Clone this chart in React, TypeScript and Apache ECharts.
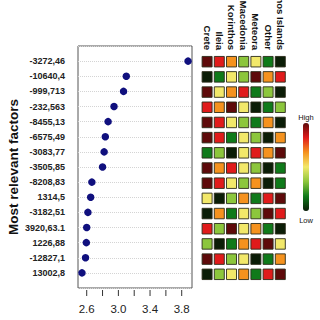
import { useEffect, useRef } from "react";
import * as echarts from "echarts";

// Dot plot: factor labels (top to bottom) and their importance scores
const factorLabels = [
  "-3272,46", "-10640,4", "-999,713", "-232,563", "-8455,13",
  "-6575,49", "-3083,77", "-3505,85", "-8208,83", "1314,5",
  "-3182,51", "3920,63.1", "1226,88", "-12827,1", "13002,8",
];
const importance = [
  3.88, 3.1, 3.065, 2.945, 2.87, 2.835, 2.82, 2.8, 2.665, 2.65,
  2.615, 2.6, 2.595, 2.585, 2.54,
];
const scoreTicks = [2.6, 2.8, 3.0, 3.2, 3.4, 3.6, 3.8];
const scoreLabels = [2.6, 3.0, 3.4, 3.8];

// Heat map: regions (columns) and relative level per factor row, 1 = low .. 7 = high
const regions = ["Crete", "Ileia", "Korinthos", "Macedonia", "Meteora", "Other", "Samos Islands"];
const levelRows = [
  [7, 6, 5, 3, 4, 2, 1],
  [1, 2, 4, 3, 7, 5, 6],
  [7, 4, 5, 6, 2, 3, 1],
  [6, 5, 7, 4, 1, 2, 3],
  [7, 6, 4, 3, 2, 5, 1],
  [7, 6, 2, 4, 3, 1, 5],
  [2, 3, 1, 4, 6, 5, 7],
  [7, 5, 6, 4, 3, 1, 2],
  [7, 6, 4, 3, 5, 1, 2],
  [4, 1, 3, 5, 2, 6, 7],
  [1, 5, 2, 4, 3, 7, 6],
  [6, 3, 7, 4, 5, 2, 1],
  [3, 1, 2, 5, 6, 7, 4],
  [7, 6, 3, 4, 1, 2, 5],
  [1, 3, 4, 5, 2, 6, 7],
];
const levelColors = ["#0b1d07", "#0f7a1a", "#8cc63c", "#f2e86a", "#f5921e", "#e01b1b", "#5e0a0a"];
const legendEnds = ["High", "Low"];

const FONT = "Liberation Sans, Arial, sans-serif";
const Y_MAX = 15;

export default function App() {
  const ref = useRef<HTMLDivElement>(null);

  useEffect(() => {
    if (!ref.current) return;
    const chart = echarts.init(ref.current, null, { renderer: "svg" });

    const dots = importance.map((v, i) => [v, i]);
    const cells: number[][] = [];
    levelRows.forEach((row, r) => row.forEach((lv, c) => cells.push([c, r, lv])));

    chart.setOption({
      animation: false,
      backgroundColor: "#ffffff",
      textStyle: { fontFamily: FONT },
      grid: [
        {
          left: 78, right: 128, top: 46, bottom: 32,
          show: true, borderColor: "#555", borderWidth: 1,
          outerBoundsMode: "none",
        },
        {
          left: 201, right: 33.6, top: 54.1, bottom: 38.1,
          show: false, outerBoundsMode: "none",
        },
      ],
      xAxis: [
        {
          type: "value",
          gridIndex: 0,
          position: "bottom",
          min: 2.49,
          max: 3.93,
          axisLine: { show: false, onZero: false },
          splitLine: { show: false },
          axisTick: { show: false },
          axisLabel: {
            customValues: scoreLabels,
            formatter: (v: number) => v.toFixed(1),
            fontSize: 11.5,
            color: "#222",
            margin: 15,
          },
        },
        {
          type: "category",
          gridIndex: 1,
          data: regions,
          position: "top",
          axisLine: { show: false },
          axisTick: { show: false },
          splitLine: { show: false },
          axisLabel: { rotate: 90, fontSize: 9.6, fontWeight: "bold", color: "#111", margin: 4, interval: 0 },
        },
      ],
      yAxis: [
        {
          type: "value",
          gridIndex: 0,
          inverse: true,
          min: -1,
          max: Y_MAX,
          interval: 1,
          axisLine: { show: false },
          axisTick: { show: false },
          splitLine: { show: true, lineStyle: { type: "dotted", color: "#d4d4d4", width: 1 } },
          axisLabel: {
            formatter: (v: number) => factorLabels[v] ?? "",
            fontSize: 9,
            fontWeight: "bold",
            color: "#222",
            margin: 13,
          },
          name: "Most relevant factors",
          nameLocation: "middle",
          nameRotate: 90,
          nameGap: 58,
          nameTextStyle: { fontSize: 13.5, fontWeight: "bold", color: "#111" },
        },
        {
          type: "category",
          gridIndex: 1,
          inverse: true,
          data: factorLabels,
          axisLine: { show: false },
          axisTick: { show: false },
          axisLabel: { show: false },
          splitLine: { show: false },
        },
      ],
      visualMap: {
        type: "continuous",
        seriesIndex: 1,
        dimension: 2,
        min: 1,
        max: 7,
        calculable: false,
        orient: "vertical",
        left: 303,
        top: 123,
        padding: 0,
        itemWidth: 6,
        itemHeight: 88,
        showLabel: false,
        text: ["", ""],
        inRange: { color: levelColors },
      },
      graphic: [
        {
          type: "text",
          x: 306,
          y: 117,
          style: { text: legendEnds[0], fontSize: 7.5, fill: "#111", align: "center", verticalAlign: "middle", fontFamily: FONT },
        },
        {
          type: "text",
          x: 306,
          y: 220,
          style: { text: legendEnds[1], fontSize: 7.5, fill: "#111", align: "center", verticalAlign: "middle", fontFamily: FONT },
        },
      ],
      series: [
        {
          type: "scatter",
          xAxisIndex: 0,
          yAxisIndex: 0,
          data: dots,
          symbol: "circle",
          symbolSize: 7.5,
          itemStyle: { color: "#10107e", opacity: 1 },
        },
        {
          type: "scatter",
          xAxisIndex: 1,
          yAxisIndex: 1,
          data: cells,
          symbol: "rect",
          symbolSize: [10, 10.5],
          itemStyle: { borderColor: "#2b2b1a", borderWidth: 0.9, opacity: 1 },
        },
        {
          // tick marks below the frame, placed through the score axis
          type: "custom",
          xAxisIndex: 0,
          yAxisIndex: 0,
          clip: false,
          silent: true,
          data: scoreTicks,
          renderItem: (_params: any, api: any) => {
            const [x, y] = api.coord([api.value(0), Y_MAX]);
            return {
              type: "line",
              shape: { x1: x, y1: y + 2, x2: x, y2: y + 8 },
              style: { stroke: "#333", lineWidth: 1 },
            };
          },
        },
      ],
    });

    return () => chart.dispose();
  }, []);

  return (
    <div
      ref={ref}
      style={{ position: "absolute", left: 0, top: 0, width: 320, height: 320 }}
    />
  );
}
